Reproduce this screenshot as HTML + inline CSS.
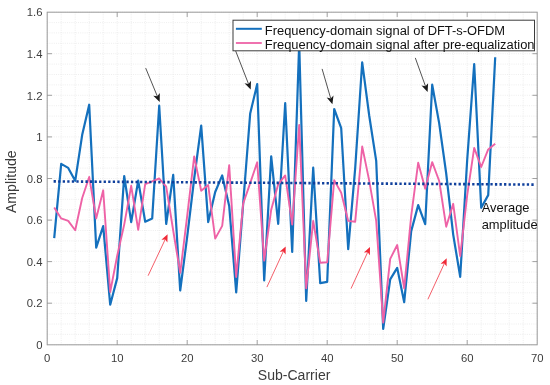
<!DOCTYPE html>
<html><head><meta charset="utf-8"><title>Frequency-domain signal</title>
<style>
html,body{margin:0;padding:0;background:#fff;}
svg{display:block;font-family:"Liberation Sans",sans-serif;}
</style></head><body>
<svg width="550" height="385" viewBox="0 0 550 385">
<rect width="550" height="385" fill="#ffffff"/>
<g stroke="#e2e2e2" stroke-width="0.6" stroke-dasharray="1 1.2" fill="none">
<line x1="47.2" y1="12.2" x2="47.2" y2="344.8"/><line x1="61.2" y1="12.2" x2="61.2" y2="344.8"/><line x1="75.2" y1="12.2" x2="75.2" y2="344.8"/><line x1="89.2" y1="12.2" x2="89.2" y2="344.8"/><line x1="103.2" y1="12.2" x2="103.2" y2="344.8"/><line x1="117.2" y1="12.2" x2="117.2" y2="344.8"/><line x1="131.2" y1="12.2" x2="131.2" y2="344.8"/><line x1="145.2" y1="12.2" x2="145.2" y2="344.8"/><line x1="159.2" y1="12.2" x2="159.2" y2="344.8"/><line x1="173.2" y1="12.2" x2="173.2" y2="344.8"/><line x1="187.2" y1="12.2" x2="187.2" y2="344.8"/><line x1="201.2" y1="12.2" x2="201.2" y2="344.8"/><line x1="215.2" y1="12.2" x2="215.2" y2="344.8"/><line x1="229.2" y1="12.2" x2="229.2" y2="344.8"/><line x1="243.2" y1="12.2" x2="243.2" y2="344.8"/><line x1="257.2" y1="12.2" x2="257.2" y2="344.8"/><line x1="271.2" y1="12.2" x2="271.2" y2="344.8"/><line x1="285.2" y1="12.2" x2="285.2" y2="344.8"/><line x1="299.2" y1="12.2" x2="299.2" y2="344.8"/><line x1="313.2" y1="12.2" x2="313.2" y2="344.8"/><line x1="327.2" y1="12.2" x2="327.2" y2="344.8"/><line x1="341.2" y1="12.2" x2="341.2" y2="344.8"/><line x1="355.2" y1="12.2" x2="355.2" y2="344.8"/><line x1="369.2" y1="12.2" x2="369.2" y2="344.8"/><line x1="383.2" y1="12.2" x2="383.2" y2="344.8"/><line x1="397.2" y1="12.2" x2="397.2" y2="344.8"/><line x1="411.2" y1="12.2" x2="411.2" y2="344.8"/><line x1="425.2" y1="12.2" x2="425.2" y2="344.8"/><line x1="439.2" y1="12.2" x2="439.2" y2="344.8"/><line x1="453.2" y1="12.2" x2="453.2" y2="344.8"/><line x1="467.2" y1="12.2" x2="467.2" y2="344.8"/><line x1="481.2" y1="12.2" x2="481.2" y2="344.8"/><line x1="495.2" y1="12.2" x2="495.2" y2="344.8"/><line x1="509.2" y1="12.2" x2="509.2" y2="344.8"/><line x1="523.2" y1="12.2" x2="523.2" y2="344.8"/><line x1="537.2" y1="12.2" x2="537.2" y2="344.8"/><line x1="47.2" y1="344.8" x2="537.2" y2="344.8"/><line x1="47.2" y1="334.4" x2="537.2" y2="334.4"/><line x1="47.2" y1="324.0" x2="537.2" y2="324.0"/><line x1="47.2" y1="313.6" x2="537.2" y2="313.6"/><line x1="47.2" y1="303.2" x2="537.2" y2="303.2"/><line x1="47.2" y1="292.8" x2="537.2" y2="292.8"/><line x1="47.2" y1="282.4" x2="537.2" y2="282.4"/><line x1="47.2" y1="272.0" x2="537.2" y2="272.0"/><line x1="47.2" y1="261.6" x2="537.2" y2="261.6"/><line x1="47.2" y1="251.2" x2="537.2" y2="251.2"/><line x1="47.2" y1="240.9" x2="537.2" y2="240.9"/><line x1="47.2" y1="230.5" x2="537.2" y2="230.5"/><line x1="47.2" y1="220.1" x2="537.2" y2="220.1"/><line x1="47.2" y1="209.7" x2="537.2" y2="209.7"/><line x1="47.2" y1="199.3" x2="537.2" y2="199.3"/><line x1="47.2" y1="188.9" x2="537.2" y2="188.9"/><line x1="47.2" y1="178.5" x2="537.2" y2="178.5"/><line x1="47.2" y1="168.1" x2="537.2" y2="168.1"/><line x1="47.2" y1="157.7" x2="537.2" y2="157.7"/><line x1="47.2" y1="147.3" x2="537.2" y2="147.3"/><line x1="47.2" y1="136.9" x2="537.2" y2="136.9"/><line x1="47.2" y1="126.5" x2="537.2" y2="126.5"/><line x1="47.2" y1="116.1" x2="537.2" y2="116.1"/><line x1="47.2" y1="105.7" x2="537.2" y2="105.7"/><line x1="47.2" y1="95.3" x2="537.2" y2="95.3"/><line x1="47.2" y1="84.9" x2="537.2" y2="84.9"/><line x1="47.2" y1="74.5" x2="537.2" y2="74.5"/><line x1="47.2" y1="64.1" x2="537.2" y2="64.1"/><line x1="47.2" y1="53.7" x2="537.2" y2="53.7"/><line x1="47.2" y1="43.3" x2="537.2" y2="43.3"/><line x1="47.2" y1="32.9" x2="537.2" y2="32.9"/><line x1="47.2" y1="22.6" x2="537.2" y2="22.6"/><line x1="47.2" y1="12.2" x2="537.2" y2="12.2"/>
</g>
<rect x="47.2" y="12.2" width="490" height="332.6" fill="none" stroke="#9a9a9a" stroke-width="1"/>
<g stroke="#8a8a8a" stroke-width="0.8"><line x1="117.2" y1="344.8" x2="117.2" y2="340" /><line x1="117.2" y1="12.2" x2="117.2" y2="17" /><line x1="187.2" y1="344.8" x2="187.2" y2="340" /><line x1="187.2" y1="12.2" x2="187.2" y2="17" /><line x1="257.2" y1="344.8" x2="257.2" y2="340" /><line x1="257.2" y1="12.2" x2="257.2" y2="17" /><line x1="327.2" y1="344.8" x2="327.2" y2="340" /><line x1="327.2" y1="12.2" x2="327.2" y2="17" /><line x1="397.2" y1="344.8" x2="397.2" y2="340" /><line x1="397.2" y1="12.2" x2="397.2" y2="17" /><line x1="467.2" y1="344.8" x2="467.2" y2="340" /><line x1="467.2" y1="12.2" x2="467.2" y2="17" /><line x1="47.2" y1="303.2" x2="52" y2="303.2" /><line x1="537.2" y1="303.2" x2="532.4" y2="303.2" /><line x1="47.2" y1="261.6" x2="52" y2="261.6" /><line x1="537.2" y1="261.6" x2="532.4" y2="261.6" /><line x1="47.2" y1="220.1" x2="52" y2="220.1" /><line x1="537.2" y1="220.1" x2="532.4" y2="220.1" /><line x1="47.2" y1="178.5" x2="52" y2="178.5" /><line x1="537.2" y1="178.5" x2="532.4" y2="178.5" /><line x1="47.2" y1="136.9" x2="52" y2="136.9" /><line x1="537.2" y1="136.9" x2="532.4" y2="136.9" /><line x1="47.2" y1="95.3" x2="52" y2="95.3" /><line x1="537.2" y1="95.3" x2="532.4" y2="95.3" /><line x1="47.2" y1="53.7" x2="52" y2="53.7" /><line x1="537.2" y1="53.7" x2="532.4" y2="53.7" /></g>
<g font-size="11.3" fill="#3c3c3c"><text x="47.2" y="361.5" text-anchor="middle">0</text><text x="117.2" y="361.5" text-anchor="middle">10</text><text x="187.2" y="361.5" text-anchor="middle">20</text><text x="257.2" y="361.5" text-anchor="middle">30</text><text x="327.2" y="361.5" text-anchor="middle">40</text><text x="397.2" y="361.5" text-anchor="middle">50</text><text x="467.2" y="361.5" text-anchor="middle">60</text><text x="537.2" y="361.5" text-anchor="middle">70</text><text x="42.5" y="349.0" text-anchor="end">0</text><text x="42.5" y="307.4" text-anchor="end">0.2</text><text x="42.5" y="265.8" text-anchor="end">0.4</text><text x="42.5" y="224.3" text-anchor="end">0.6</text><text x="42.5" y="182.7" text-anchor="end">0.8</text><text x="42.5" y="141.1" text-anchor="end">1</text><text x="42.5" y="99.5" text-anchor="end">1.2</text><text x="42.5" y="57.9" text-anchor="end">1.4</text><text x="42.5" y="16.4" text-anchor="end">1.6</text></g>
<text x="294.1" y="380.2" font-size="14.05" fill="#3c3c3c" text-anchor="middle">Sub-Carrier</text>
<text transform="translate(15.8,181.7) rotate(-90)" font-size="14.1" fill="#3c3c3c" text-anchor="middle">Amplitude</text>
<polyline points="54.2,238.1 61.2,163.9 68.2,167.9 75.2,180.8 82.2,134.8 89.2,104.7 96.2,247.7 103.2,226.1 110.2,304.7 117.2,278.1 124.2,176.0 131.2,222.1 138.2,180.6 145.2,221.7 152.2,218.4 159.2,105.7 166.2,224.0 173.2,174.9 180.2,290.5 187.2,236.7 194.2,178.5 201.2,125.7 208.2,222.1 215.2,192.0 222.2,175.4 229.2,205.9 236.2,292.4 243.2,203.4 250.2,113.4 257.2,84.1 264.2,280.4 271.2,156.4 278.2,223.8 285.2,103.2 292.2,251.9 299.2,43.3 306.2,300.9 313.2,167.7 320.2,283.1 327.2,281.8 334.2,109.0 341.2,128.2 348.2,249.2 355.2,168.1 362.2,62.3 369.2,115.5 376.2,160.8 383.2,328.9 390.2,279.3 397.2,267.9 404.2,302.2 411.2,231.1 418.2,205.1 425.2,224.2 432.2,84.7 439.2,123.4 446.2,173.5 453.2,234.6 460.2,276.8 467.2,159.8 474.2,64.1 481.2,207.8 488.2,195.1 495.2,57.3" fill="none" stroke="#1470bd" stroke-width="2.2" stroke-linejoin="round"/>
<polyline points="54.2,207.6 61.2,218.4 68.2,220.9 75.2,230.2 82.2,198.0 89.2,177.0 96.2,218.4 103.2,190.3 110.2,292.0 117.2,255.8 124.2,224.6 131.2,185.8 138.2,229.8 145.2,184.1 152.2,181.4 159.2,178.5 166.2,186.6 173.2,230.5 180.2,272.9 187.2,215.9 194.2,156.4 201.2,190.7 208.2,185.1 215.2,238.6 222.2,225.9 229.2,165.2 236.2,277.0 243.2,203.4 250.2,183.1 257.2,162.3 264.2,260.6 271.2,209.7 278.2,184.3 285.2,175.4 292.2,224.6 299.2,125.0 306.2,288.3 313.2,220.9 320.2,262.7 327.2,262.3 334.2,180.1 341.2,192.8 348.2,220.9 355.2,221.7 362.2,146.5 369.2,180.6 376.2,220.9 383.2,322.6 390.2,258.9 397.2,245.0 404.2,288.3 411.2,215.9 418.2,162.7 425.2,188.7 432.2,162.1 439.2,181.0 446.2,226.7 453.2,203.8 460.2,256.2 467.2,195.1 474.2,147.9 481.2,167.0 488.2,149.4 495.2,143.8" fill="none" stroke="#ee62a6" stroke-width="1.9" stroke-linejoin="round"/>
<line x1="53.6" y1="181.4" x2="534.6" y2="184.6" stroke="#0f3f9c" stroke-width="2.6" stroke-dasharray="2.3 2.25"/>
<line x1="145.7" y1="68.1" x2="157.3" y2="96.2" stroke="#1a1a1a" stroke-width="0.75"/><polygon points="159.7,101.9 153.3,95.7 157.3,96.2 159.8,93.0" fill="#1a1a1a"/><line x1="235.6" y1="50.8" x2="248.5" y2="83.9" stroke="#1a1a1a" stroke-width="0.75"/><polygon points="250.7,89.6 244.5,83.2 248.5,83.9 251.0,80.7" fill="#1a1a1a"/><line x1="322.1" y1="68.9" x2="330.7" y2="98.4" stroke="#1a1a1a" stroke-width="0.75"/><polygon points="332.4,104.3 326.7,97.4 330.7,98.4 333.5,95.4" fill="#1a1a1a"/><line x1="415.3" y1="57.9" x2="425.5" y2="86.3" stroke="#1a1a1a" stroke-width="0.75"/><polygon points="427.6,92.1 421.5,85.6 425.5,86.3 428.1,83.2" fill="#1a1a1a"/><line x1="148.1" y1="275.7" x2="165.2" y2="239.4" stroke="#f02a38" stroke-width="0.75"/><polygon points="167.6,234.3 167.4,242.5 165.2,239.4 161.4,239.7" fill="#f02a38"/><line x1="266.9" y1="287.1" x2="283.3" y2="251.5" stroke="#f02a38" stroke-width="0.75"/><polygon points="285.7,246.4 285.6,254.6 283.3,251.5 279.6,251.8" fill="#f02a38"/><line x1="351.0" y1="288.6" x2="367.7" y2="252.2" stroke="#f02a38" stroke-width="0.75"/><polygon points="370.0,247.1 369.9,255.3 367.7,252.2 363.9,252.5" fill="#f02a38"/><line x1="427.9" y1="299.3" x2="444.4" y2="263.4" stroke="#f02a38" stroke-width="0.75"/><polygon points="446.7,258.3 446.6,266.5 444.4,263.4 440.6,263.7" fill="#f02a38"/>
<rect x="233" y="20.2" width="301.5" height="30.6" fill="#ffffff" stroke="#3c3c3c" stroke-width="1"/>
<line x1="235.9" y1="28.8" x2="261.8" y2="28.8" stroke="#1470bd" stroke-width="2"/>
<line x1="235.9" y1="43" x2="261.8" y2="43" stroke="#ee62a6" stroke-width="1.8"/>
<text x="264.8" y="34.5" font-size="12.92" fill="#111">Frequency-domain signal of DFT-s-OFDM</text>
<text x="264.8" y="48.5" font-size="12.92" fill="#111">Frequency-domain signal after pre-equalization</text>
<text x="481.7" y="212.2" font-size="12.9" fill="#111">Average</text>
<text x="481.7" y="228.8" font-size="12.9" fill="#111">amplitude</text>
</svg>
</body></html>
